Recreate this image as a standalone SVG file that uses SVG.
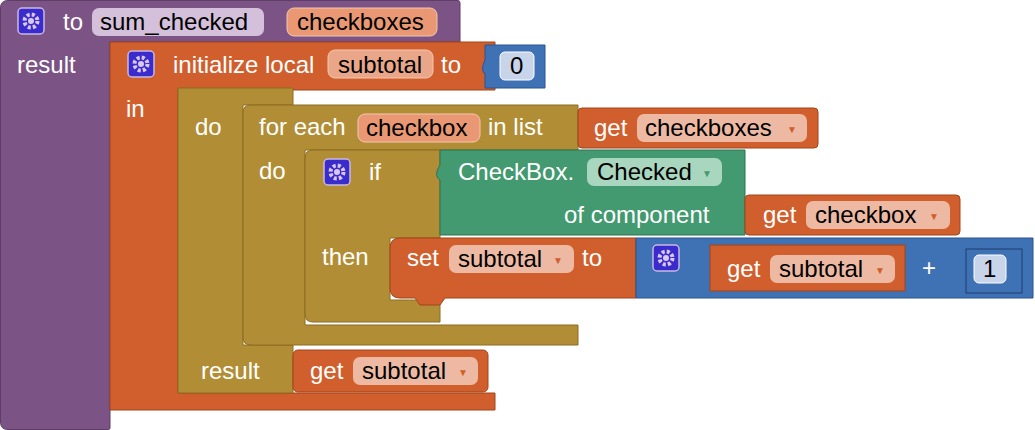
<svg xmlns="http://www.w3.org/2000/svg" width="1035" height="430" viewBox="0 0 1035 430">
<style>
text{font-family:"Liberation Sans",Arial,sans-serif;font-size:24px}
.w{fill:#fff}.k{fill:#000}
.pu{fill:#7c5385;stroke:#5e3d66}
.or{fill:#d05f2d;stroke:#a4441b}
.ol{fill:#b18e35;stroke:#8a6c22}
.gr{fill:#439970;stroke:#2f7353}
.bl{fill:#3f71b5;stroke:#2b5490}
.gear{fill:#3a2bcc;stroke:#c9b9e0;stroke-width:1.5}
.dd{fill:#d05f2d;font-size:10px}
.ddg{fill:#439970;font-size:10px}
</style>
<defs>
<g id="gearI"><rect x="-13" y="-13" width="26" height="26" rx="4" class="gear"/><circle r="6.5" fill="none" stroke="#d9c8f0" stroke-width="4" stroke-dasharray="3 2.1"/><circle r="3" fill="#d9c8f0"/></g>
</defs>
<g id="procedure">
<path class="pu" d="M0.5,8 Q0.5,0.5 8,0.5 H458 Q460,0.5 460,3 V42 H110 V428 Q110,429.5 108,429.5 H8 Q0.5,429.5 0.5,422 Z"/>
<use href="#gearI" x="31" y="21"/>
<text x="63" y="30" class="w">to</text>
<rect x="92" y="8" width="172" height="28" rx="7" fill="#d4c0db"/>
<text x="100" y="30" class="k">sum_checked</text>
<rect x="287" y="8" width="150" height="28" rx="7" fill="#e99873" stroke="#f4c7b2"/>
<text x="297" y="30" class="k">checkboxes</text>
<text x="17" y="73" class="w">result</text>
</g>
<g id="init_local">
<path class="or" d="M110,42 H495 V90 H178 V393 H495 V410 H110 Z"/>
<use href="#gearI" x="141" y="64"/>
<text x="173" y="73" class="w">initialize local</text>
<rect x="328" y="50" width="105" height="28" rx="7" fill="#eaa688" stroke="#f4c7b2"/>
<text x="338" y="73" class="k">subtotal</text>
<text x="441" y="73" class="w">to</text>
<text x="126" y="117" class="w">in</text>
</g>
<g id="num0">
<path class="bl" d="M485,45 H545 V88 H485 V74 Q480,70 485,60 Z"/>
<rect x="500" y="52" width="34" height="28" rx="5" fill="#c8d4ea" stroke="#fff"/>
<text x="510" y="74" class="k">0</text>
</g>
<g id="do_result">
<path class="ol" d="M178,88 H293 V105 H243 V345 H293 V393 H178 Z"/>
<text x="195" y="135" class="w">do</text>
<text x="201" y="379" class="w">result</text>
</g>
<g id="get_subtotal2">
<rect class="or" x="293" y="350" width="195" height="42" rx="5"/>
<text x="310" y="379" class="w">get</text>
<rect x="353" y="357" width="125" height="28" rx="7" fill="#eeb9a3"/>
<text x="362" y="379" class="k">subtotal</text>
<text x="458" y="376" class="dd">▼</text>
</g>
<g id="for_each">
<path class="ol" d="M243,113 Q243,105 251,105 H578 V150 H305 V325 H578 V345 H251 Q243,345 243,337 Z"/>
<text x="259" y="135" class="w">for each</text>
<rect x="358" y="114" width="122" height="28" rx="7" fill="#e99873" stroke="#f4c7b2"/>
<text x="366" y="136" class="k">checkbox</text>
<text x="488" y="135" class="w">in list</text>
<text x="259" y="179" class="w">do</text>
</g>
<g id="get_checkboxes">
<rect class="or" x="578" y="108" width="240" height="40" rx="4"/>
<text x="594" y="136" class="w">get</text>
<rect x="637" y="114" width="170" height="28" rx="7" fill="#eeb9a3"/>
<text x="645" y="136" class="k">checkboxes</text>
<text x="787" y="133" class="dd">▼</text>
</g>
<g id="if_block">
<path class="ol" d="M313,150 H440 V238 H390 V300 H440 V322 H313 Q305,322 305,314 V158 Q305,150 313,150 Z"/>
<use href="#gearI" x="337" y="172"/>
<text x="369" y="180" class="w">if</text>
<text x="322" y="265" class="w">then</text>
</g>
<g id="checkbox_checked">
<path class="gr" d="M440,150 H745 V235 H440 V180 Q433,176 440,165 Z"/>
<text x="458" y="180" class="w">CheckBox.</text>
<rect x="587" y="158" width="135" height="28" rx="7" fill="#a9d6bf"/>
<text x="597" y="180" class="k">Checked</text>
<text x="702" y="177" class="ddg">▼</text>
<text x="564" y="223" class="w">of component</text>
</g>
<g id="get_checkbox">
<rect class="or" x="745" y="195" width="215" height="40" rx="4"/>
<text x="763" y="223" class="w">get</text>
<rect x="806" y="201" width="144" height="28" rx="7" fill="#eeb9a3"/>
<text x="815" y="223" class="k">checkbox</text>
<text x="929" y="220" class="dd">▼</text>
</g>
<g id="set_subtotal">
<path class="or" d="M400,238 H636 V298 H445 L440,305 H420 L415,298 H400 Q390,298 390,288 V248 Q390,238 400,238 Z"/>
<text x="407" y="266" class="w">set</text>
<rect x="449" y="245" width="125" height="28" rx="7" fill="#eeb9a3"/>
<text x="458" y="267" class="k">subtotal</text>
<text x="553" y="264" class="dd">▼</text>
<text x="582" y="266" class="w">to</text>
</g>
<g id="add">
<path class="bl" d="M636,238 H1033 V298 H636 Z"/>
<use href="#gearI" x="666" y="258"/>
<rect class="or" x="710" y="245" width="195" height="46" stroke="#1e3f70"/>
<text x="727" y="277" class="w">get</text>
<rect x="770" y="255" width="125" height="28" rx="7" fill="#eeb9a3"/>
<text x="779" y="277" class="k">subtotal</text>
<text x="875" y="274" class="dd">▼</text>
<text x="922" y="276" class="w">+</text>
<rect x="966" y="249" width="56" height="44" fill="#3f71b5" stroke="#1e3f70"/>
<rect x="974" y="255" width="32" height="28" rx="5" fill="#c8d4ea" stroke="#fff"/>
<text x="983" y="277" class="k">1</text>
</g>
<g id="connectors"></g>
</svg>
